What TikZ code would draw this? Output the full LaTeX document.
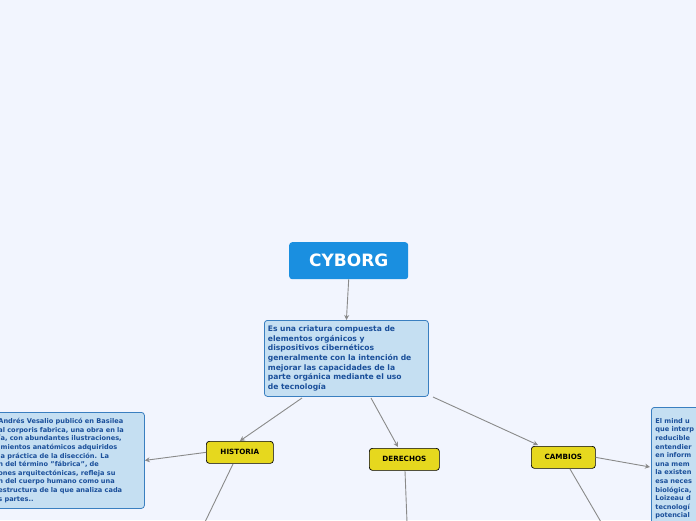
\documentclass[tikz,border=0pt]{standalone}
\usepackage{fontspec}
\setmainfont{DejaVu Sans}
\usetikzlibrary{arrows.meta}
\definecolor{bg}{HTML}{F2F5FE}
\definecolor{cyb}{HTML}{1A8FE0}
\definecolor{lb}{HTML}{C5DFF2}
\definecolor{lbd}{HTML}{3A7FC0}
\definecolor{txt}{HTML}{1A4F9A}
\definecolor{yel}{HTML}{E6D81E}
\definecolor{ln}{HTML}{8A8A8A}
\tikzset{
 x=1pt,y=-1pt,
 desc/.style={draw=lbd,fill=lb,rounded corners=3pt,line width=0.8pt,text=txt,font=\bfseries\fontsize{7.6}{9.7}\selectfont,align=left,inner sep=5pt,anchor=north west},
 tag/.style={draw=black,fill=yel,rounded corners=3pt,line width=0.7pt,font=\bfseries\fontsize{7.2}{8}\selectfont,anchor=north west,minimum height=22pt,inner sep=2pt},
 con/.style={draw=ln,line width=0.9pt},
 arr/.style={con,-{Stealth[length=5pt,width=5pt]}}
}
\begin{document}
\begin{tikzpicture}
\fill[bg] (0,0) rectangle (696,520);
\useasboundingbox (0,0) rectangle (696,520);
\clip (0,0) rectangle (696,520);
\node[draw=none,fill=cyb,rounded corners=3pt,text=white,font=\bfseries\fontsize{17}{20}\selectfont,minimum width=119pt,minimum height=37pt,anchor=north west] (cy) at (289,242) {CYBORG};
\node[desc,text width=157pt,minimum height=76pt,inner sep=3.5pt] (def) at (264,320) {Es una criatura compuesta de\\elementos orgánicos y\\dispositivos cibernéticos\\generalmente con la intención de\\mejorar las capacidades de la\\parte orgánica mediante el uso\\de tecnología};
\node[tag,minimum width=67pt] (his) at (206,441) {HISTORIA};
\node[tag,minimum width=70pt] (der) at (369,448) {DERECHOS};
\node[tag,minimum width=64pt] (cam) at (531,446) {CAMBIOS};
\node[desc,text width=142pt,minimum height=96pt,font=\bfseries\fontsize{6.6}{8.6}\selectfont,inner sep=4pt] (hd) at (-6,412) {Andrés Vesalio publicó en Basilea\\al corporis fabrica, una obra en la\\ía, con abundantes ilustraciones,\\imientos anatómicos adquiridos\\la práctica de la disección. La\\n del término "fábrica", de\\ones arquitectónicas, refleja su\\n del cuerpo humano como una\\estructura de la que analiza cada\\s partes..};
\node[desc,text width=60pt,minimum height=130pt,font=\bfseries\fontsize{6.6}{8.6}\selectfont,inner sep=4pt] (cd) at (651,407) {El mind u\\que interp\\reducible\\entendier\\en inform\\una mem\\la existen\\esa neces\\biológica,\\Loizeau d\\tecnologí\\potencial\\humano t};
\coordinate (h2) at (205,522);
\coordinate (d2) at (407,522);
\coordinate (c2) at (601,522);
\draw[arr] (cy.south) -- (def.north);
\draw[arr] (302,398) -- (his.north);
\draw[arr] (371,398) -- (398,447);
\draw[arr] (433,397) -- (538,445);
\draw[arr] (his.west) -- (hd.east);
\draw[arr] (cam.east) -- (650,467);
\draw[con] (233,464) -- (h2);
\draw[con] (405,471) -- (d2);
\draw[con] (570,469) -- (c2);
\end{tikzpicture}
\end{document}
